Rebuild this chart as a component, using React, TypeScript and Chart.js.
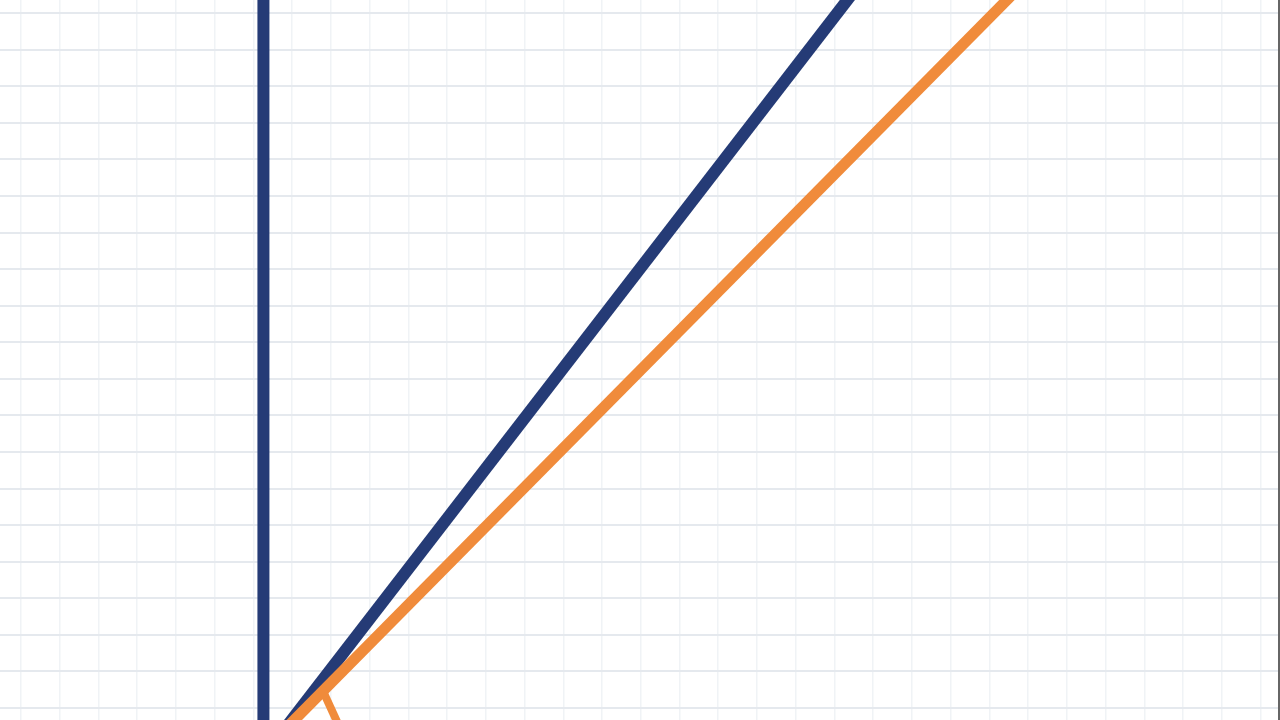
import React, { useEffect, useRef } from "react";
import { Chart, registerables } from "chart.js";

Chart.register(...registerables);

// grid-paper coordinates: one unit per grid cell
const xRange = [-0.54, 32.45];
const yRange = [-0.33, 19.36];

const verticalLine = [
  { x: 6.26, y: -1 },
  { x: 6.26, y: 20 },
];
const navyDiagonal = [
  { x: 6.5, y: -1 },
  { x: 21.8, y: 20 },
];
const orangeDiagonal = [
  { x: 6.43, y: -1 },
  { x: 26.05, y: 20 },
];
const angleMark = [
  { x: 7.76, y: 0.55 },
  { x: 8.17, y: -0.4 },
];

const navy = "#253b76";
const orange = "#f08b3b";

export default function App(): React.JSX.Element {
  const chartRef = useRef<HTMLCanvasElement | null>(null);
  const chartInstanceRef = useRef<Chart | null>(null);

  useEffect(() => {
    if (!chartRef.current) return;

    const line = (data: { x: number; y: number }[], color: string, width: number) => ({
      data,
      borderColor: color,
      backgroundColor: color,
      borderWidth: width,
      showLine: true,
      pointRadius: 0,
      borderCapStyle: "butt" as const,
    });

    chartInstanceRef.current = new Chart(chartRef.current, {
      type: "scatter",
      data: {
        datasets: [
          line(verticalLine, navy, 12),
          line(angleMark, orange, 8),
          line(orangeDiagonal, orange, 11),
          line(navyDiagonal, navy, 12),
        ],
      },
      options: {
        responsive: true,
        maintainAspectRatio: false,
        animation: false,
        layout: { padding: 0 },
        plugins: {
          legend: { display: false },
          tooltip: { enabled: false },
        },
        scales: {
          x: {
            type: "linear",
            min: xRange[0],
            max: xRange[1],
            border: { display: false },
            grid: { color: "#f0f3f6", lineWidth: 1.5, drawTicks: false },
            ticks: { display: false, stepSize: 1, includeBounds: false },
          },
          y: {
            type: "linear",
            min: yRange[0],
            max: yRange[1],
            border: { display: false },
            grid: { color: "#e5e9ee", lineWidth: 2, drawTicks: false },
            ticks: { display: false, stepSize: 1, includeBounds: false },
          },
        },
      },
    });

    return () => {
      chartInstanceRef.current?.destroy();
    };
  }, []);

  return (
    <div
      style={{
        position: "fixed",
        left: 0,
        top: 0,
        width: 1280,
        height: 720,
        background: "#fff",
        boxSizing: "border-box",
        borderRight: "2px solid #666",
      }}
    >
      <canvas ref={chartRef} />
    </div>
  );
}
